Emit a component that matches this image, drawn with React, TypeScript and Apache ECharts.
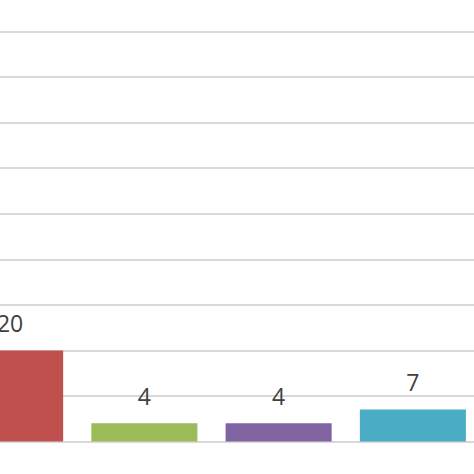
import React, { useEffect, useRef } from 'react';
import * as echarts from 'echarts';

const categories = ['B', 'C', 'D', 'E'];
const values = [20, 4, 4, 7];
const barColors = ['#c0504d', '#9bbb59', '#8064a2', '#4bacc6'];

const App: React.FC = () => {
  const chartRef = useRef<HTMLDivElement>(null);

  useEffect(() => {
    if (!chartRef.current) return;
    const myChart = echarts.init(chartRef.current, undefined, { renderer: 'svg' });
    myChart.setOption({
      animation: false,
      grid: { left: 0, right: 0, top: 0, bottom: 32.5 },
      xAxis: {
        type: 'category',
        data: categories,
        axisLine: { lineStyle: { color: '#d9d9d9', width: 2 } },
        axisTick: { show: false },
        axisLabel: { show: false }
      },
      yAxis: {
        type: 'value',
        min: 0,
        max: 100,
        interval: 10,
        axisLabel: { show: false },
        axisLine: { show: false },
        axisTick: { show: false },
        splitLine: { lineStyle: { color: '#d9d9d9', width: 2 } }
      },
      series: [
        {
          type: 'bar',
          barCategoryGap: '21%',
          data: values.map((v, i) => ({ value: v, itemStyle: { color: barColors[i] } })),
          label: {
            show: true,
            position: 'top',
            distance: 16,
            color: '#404040',
            fontSize: 23,
            fontFamily: 'Open Sans'
          }
        }
      ]
    });
    return () => {
      myChart.dispose();
    };
  }, []);

  return (
    <div style={{ position: 'fixed', left: 0, top: 0, width: 474, height: 474, overflow: 'hidden', background: '#fff' }}>
      <div ref={chartRef} style={{ position: 'absolute', left: -57, top: -14, width: 537, height: 488 }} />
    </div>
  );
};

export default App;
